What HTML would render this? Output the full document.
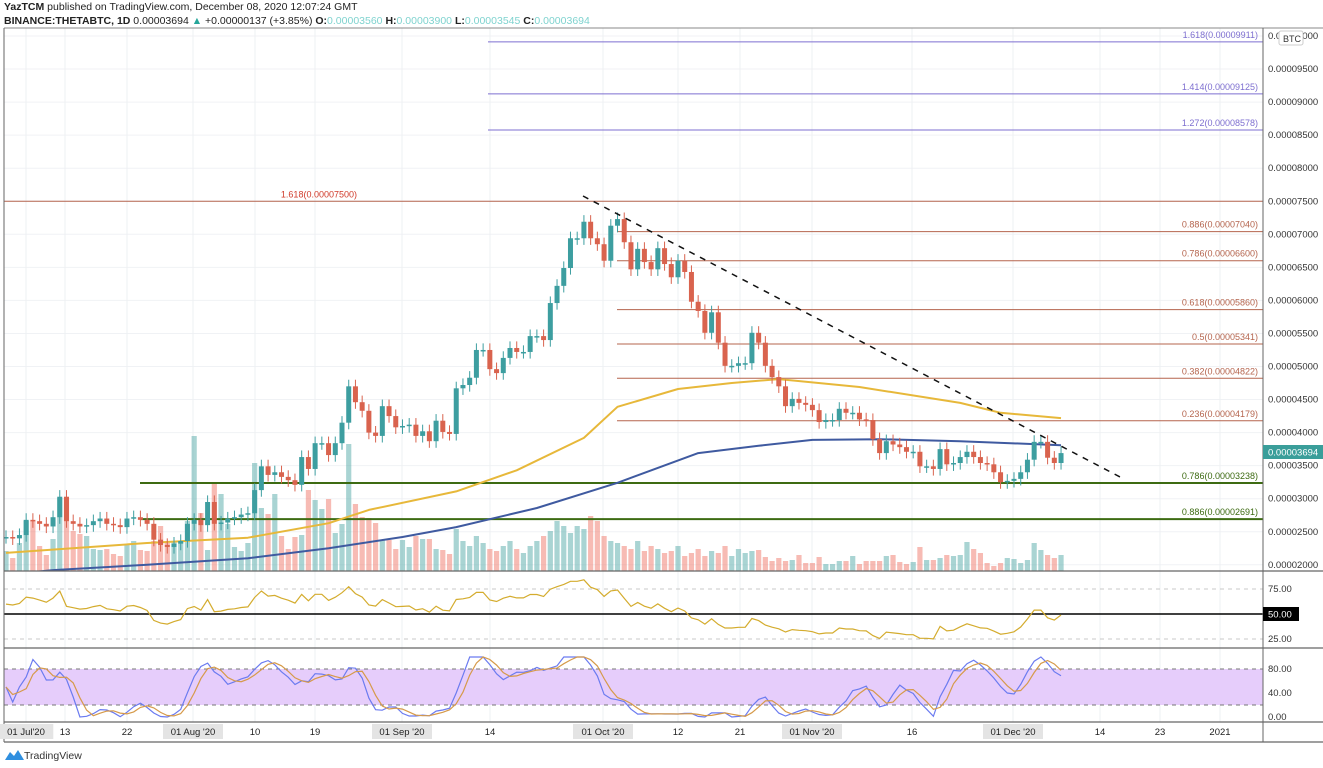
<!DOCTYPE html>
<html><head><meta charset="utf-8">
<style>
html,body{margin:0;padding:0;background:#fff;}
body{width:1323px;height:768px;overflow:hidden;position:relative;font-family:"Liberation Sans",sans-serif;}
.hdr{position:absolute;left:4px;font-size:10.5px;color:#222;white-space:nowrap;z-index:2;}
.hdr b{font-weight:bold;}
.cy{color:#7fd3cf;}
svg text{font-family:"Liberation Sans",sans-serif;}
</style></head>
<body>
<div class="hdr" style="top:1px"><b>YazTCM</b> published on TradingView.com, December 08, 2020 12:07:24 GMT</div>
<div class="hdr" style="top:15px"><b>BINANCE:THETABTC, 1D</b> 0.00003694 <span style="color:#26a69a">▲</span> +0.00000137 (+3.85%) <b>O:</b><span class="cy">0.00003560</span> <b>H:</b><span class="cy">0.00003900</span> <b>L:</b><span class="cy">0.00003545</span> <b>C:</b><span class="cy">0.00003694</span></div>
<svg id="chart" width="1323" height="768" style="position:absolute;left:0;top:0"></svg>
<script>
// ---- data (price in units of 1e-5 BTC) ----
const closes = [2.42,2.40,2.45,2.68,2.66,2.62,2.58,2.72,3.03,2.66,2.62,2.58,2.60,2.66,2.70,2.62,2.60,2.57,2.70,2.72,
2.68,2.62,2.38,2.30,2.27,2.32,2.36,2.62,2.68,2.60,2.95,2.62,2.64,2.70,2.72,2.76,2.78,3.13,3.49,3.36,
3.40,3.33,3.28,3.21,3.63,3.45,3.84,3.84,3.66,3.84,4.15,4.70,4.46,4.33,4.00,3.95,4.40,4.25,4.08,4.10,
4.12,3.95,4.02,3.87,4.18,4.01,3.98,4.67,4.72,4.83,5.25,5.25,4.96,4.90,5.13,5.28,5.22,5.22,5.46,5.46,
5.40,5.96,6.22,6.49,6.94,6.94,7.19,6.94,6.85,6.60,7.13,7.23,6.88,6.47,6.78,6.58,6.47,6.79,6.55,6.35,
6.60,6.43,5.98,5.84,5.51,5.82,5.36,5.01,5.01,5.05,5.05,5.51,5.36,5.01,4.84,4.70,4.40,4.51,4.45,4.42,
4.34,4.16,4.19,4.19,4.36,4.30,4.30,4.20,4.19,3.90,3.69,3.87,3.82,3.78,3.71,3.71,3.49,3.49,3.45,3.75,
3.52,3.54,3.63,3.71,3.63,3.54,3.52,3.40,3.25,3.27,3.30,3.40,3.59,3.86,3.86,3.62,3.54,3.69];
const volumes = [20,13,28,50,50,25,16,32,73,73,40,37,35,22,21,22,17,15,26,30,
21,20,30,45,28,30,30,50,135,58,21,87,77,47,24,20,28,108,63,57,
77,35,22,34,36,81,71,62,72,38,47,127,67,54,53,48,31,31,22,31,
24,35,32,32,22,21,17,42,
30,25,35,28,22,20,25,30,22,18,25,30,35,40,50,45,38,45,42,55,50,35,30,28,25,22,30,20,25,22,18,20,25,15,18,22,15,20,18,25,15,22,18,20,
21,14,10,13,10,11,16,8,8,14,7,7,10,10,15,7,10,10,10,15,16,9,7,9,24,11,11,13,16,15,16,29,22,18,8,5,8,13,12,8,11,28,21,16,13,16];
const ma50Idx = [0,21,36,48,54,67,76,86,91,100,108,115,127,142,148,157];
const ma50Val = [2.18,2.33,2.41,2.63,2.83,3.11,3.43,3.92,4.39,4.66,4.75,4.81,4.69,4.45,4.30,4.22];
const ma200Idx = [0,7,21,36,48,59,67,79,91,103,112,120,130,142,157];
const ma200Val = [1.85,1.92,2.00,2.10,2.25,2.42,2.57,2.86,3.24,3.69,3.80,3.89,3.90,3.87,3.81];
const priceTicks = [10,9.5,9,8.5,8,7.5,7,6.5,6,5.5,5,4.5,4,3.5,3,2.5,2];
const fibLevels = [
 {v:9.911,lab:"1.618(0.00009911)",c:"#7e6fd0",x0:488},
 {v:9.125,lab:"1.414(0.00009125)",c:"#7e6fd0",x0:488},
 {v:8.578,lab:"1.272(0.00008578)",c:"#7e6fd0",x0:488},
 {v:7.040,lab:"0.886(0.00007040)",c:"#b5654e",x0:617},
 {v:6.600,lab:"0.786(0.00006600)",c:"#b5654e",x0:617},
 {v:5.860,lab:"0.618(0.00005860)",c:"#b5654e",x0:617},
 {v:5.341,lab:"0.5(0.00005341)",c:"#b5654e",x0:617},
 {v:4.822,lab:"0.382(0.00004822)",c:"#b5654e",x0:617},
 {v:4.179,lab:"0.236(0.00004179)",c:"#b5654e",x0:617},
 {v:3.238,lab:"0.786(0.00003238)",c:"#3d6b12",x0:140,w:2},
 {v:2.691,lab:"0.886(0.00002691)",c:"#3d6b12",x0:140,w:2}];
const dateLabels = ["01 Jul'20","13","22","01 Aug '20","10","19","01 Sep '20","14","01 Oct '20","12","21","01 Nov '20","16","01 Dec '20","14","23","2021"];
const dateX = [26,65,127,193,255,315,402,490,603,678,740,812,912,1013,1100,1160,1220];

// ---- geometry ----
const NS="http://www.w3.org/2000/svg";
const svg=document.getElementById('chart');
const PL=4, PR=1263, PT=28, PB=571;
const x0=6, dx=6.72;
const xI=i=>x0+i*dx;
const yP=p=>36+(10-p)*66.1;
const yR=v=>614-(v-50)*1.0;
const yS=v=>717-v*0.6;
function mk(tag,attrs,parent){const e=document.createElementNS(NS,tag);for(const k in attrs)e.setAttribute(k,attrs[k]);(parent||svg).appendChild(e);return e;}
function txt(s,x,y,attrs,parent){const t=mk('text',Object.assign({x:x,y:y,'font-size':10,fill:'#333'},attrs),parent);t.textContent=s;return t;}

const defsEl=mk('defs',{});
const cpEl=mk('clipPath',{id:'pc'},defsEl);mk('rect',{x:PL,y:PT,width:PR-PL,height:PB-PT},cpEl);

const gridG=mk('g',{});


priceTicks.forEach(p=>mk('line',{x1:PL,x2:PR,y1:yP(p),y2:yP(p),stroke:'#f0f2f5'},gridG));
dateX.forEach(x=>mk('line',{x1:x,x2:x,y1:PT,y2:722,stroke:'#eef0f3'},gridG));

const bandEl=mk('rect',{x:PL,y:yS(80),width:PR-PL,height:yS(20)-yS(80),fill:'#e6cdfb'});



const pg=mk('g',{'clip-path':'url(#pc)'});
closes.forEach((c,i)=>{
  const o=i?closes[i-1]:c;const up=c>=o;
  const h=volumes[i];
  const r=mk('rect',{x:xI(i)-2.6,y:PB-h,width:5.2,height:h,fill:up?'rgba(83,170,168,0.5)':'rgba(239,120,105,0.5)'},pg);
  
  
});
fibLevels.forEach(f=>{
  const l=mk('line',{x1:f.x0,x2:PR,y1:yP(f.v),y2:yP(f.v),stroke:f.c,'stroke-width':f.w||1},pg);
  
  
  const t=txt(f.lab,1258,yP(f.v)-4,{'text-anchor':'end','font-size':9,fill:f.c},pg);
  
  
});
const fibTopLine=mk('line',{x1:PL,x2:PR,y1:yP(7.5),y2:yP(7.5),stroke:'#b5654e'},pg);


const fibTopLab=txt("1.618(0.00007500)",357,yP(7.5)-4,{'text-anchor':'end','font-size':9,fill:'#d03a2a'},pg);


function maPath(idx,val,color,name){
  const d=idx.map((k,j)=>(j?'L':'M')+xI(k).toFixed(1)+','+yP(val[j]).toFixed(1)).join('');
  const p=mk('path',{d:d,fill:'none',stroke:color,'stroke-width':2,'stroke-linejoin':'round'},pg);
  
  
}
maPath(ma50Idx,ma50Val,'#e7b83a','ma-50-line');
maPath(ma200Idx,ma200Val,'#3f5aa0','ma-200-line');
closes.forEach((c,i)=>{
  const o=i?closes[i-1]:c;const up=c>=o;
  const hi=Math.max(o,c)+0.1, lo=Math.min(o,c)-0.1;
  const col=up?'#3d9ea0':'#d9634e';
  const w=mk('line',{x1:xI(i),x2:xI(i),y1:yP(hi),y2:yP(lo),stroke:col},pg);
  
  
  const yt=yP(Math.max(o,c)), yb=yP(Math.min(o,c));
  const b=mk('rect',{x:xI(i)-2.5,y:yt,width:5,height:Math.max(1.5,yb-yt),fill:col},pg);
  
  
});
const trendEl=mk('line',{x1:583,y1:196,x2:1122,y2:478,stroke:'#111','stroke-width':1.5,'stroke-dasharray':'6,6'},pg);



// RSI / Stoch RSI computed from closes
const rsi=[];
let ag=0,al=0;
for(let i=1;i<=14;i++){const ch=closes[i]-closes[i-1];ag+=Math.max(ch,0)/14;al+=Math.max(-ch,0)/14;}
closes.forEach((c,i)=>{
  if(i>0){const ch=c-closes[i-1];ag=(ag*13+Math.max(ch,0))/14;al=(al*13+Math.max(-ch,0))/14;}
  rsi.push(al===0?100:100-100/(1+ag/al));
});
const stv=rsi.map((v,i)=>{const s=rsi.slice(Math.max(0,i-13),i+1);const mn=Math.min(...s),mx=Math.max(...s);return mx>mn?(v-mn)/(mx-mn)*100:50;});
const sma=(a,n)=>a.map((v,i)=>{const s=a.slice(Math.max(0,i-n+1),i+1);return s.reduce((x,y)=>x+y,0)/s.length;});
const kLine=sma(stv,3),dLine=sma(kLine,3);
[75,25].forEach(v=>mk('line',{x1:PL,x2:PR,y1:yR(v),y2:yR(v),stroke:'#c8c8c8','stroke-dasharray':'4,4'}));
const r50=mk('line',{x1:PL,x2:PR,y1:yR(50),y2:yR(50),stroke:'#000','stroke-width':1.5});


function seriesLine(arr,fy,color,name){
  const d=arr.map((v,i)=>(i?'L':'M')+xI(i).toFixed(1)+','+fy(v).toFixed(1)).join('');
  const p=mk('path',{d:d,fill:'none',stroke:color,'stroke-width':1.2});
  
  
}
seriesLine(rsi,yR,'#d4ac2e','rsi-line');
[80,20].forEach(v=>mk('line',{x1:PL,x2:PR,y1:yS(v),y2:yS(v),stroke:'#777','stroke-dasharray':'4,4'}));
seriesLine(kLine,yS,'#6b7bf0','stoch-k-line');
seriesLine(dLine,yS,'#d69a4a','stoch-d-line');

[PB,648,722,742].forEach(yv=>mk('line',{x1:PL,x2:1323,y1:yv,y2:yv,stroke:'#666','stroke-width':1.2}));
mk('line',{x1:PL,x2:1323,y1:PT,y2:PT,stroke:'#888'});
mk('line',{x1:PL,x2:PL,y1:PT,y2:742,stroke:'#666'});
mk('line',{x1:PR,x2:PR,y1:PT,y2:742,stroke:'#666'});

priceTicks.forEach(p=>{
  const t=txt((p*1e-5).toFixed(8),1268,yP(p)+3,{'font-size':9.5});
  
  
});
const priceBadge=mk('rect',{x:1263,y:445,width:60,height:14,fill:'#3a9e9a'});


const priceText=txt('0.00003694',1268,455.5,{'font-size':9.5,fill:'#fff'});


const btcBadge=mk('rect',{x:1279,y:31,width:24,height:14,rx:2,fill:'#fff',stroke:'#ccc'});


txt('BTC',1283,42,{'font-size':9});
[[75,'75.00'],[25,'25.00']].forEach(a=>txt(a[1],1268,yR(a[0])+3,{'font-size':9.5}));
mk('rect',{x:1263,y:yR(50)-7,width:36,height:14,fill:'#000'});
txt('50.00',1268,yR(50)+3.5,{'font-size':9.5,fill:'#fff'});
[[80,'80.00'],[40,'40.00'],[0,'0.00']].forEach(a=>txt(a[1],1268,yS(a[0])+3,{'font-size':9.5}));

dateLabels.forEach((s,i)=>{
  const month=/ /.test(s);
  if(month){const w=s.length*5.4+6;const r=mk('rect',{x:dateX[i]-w/2,y:724,width:w,height:15,fill:'#e4e4e4'});}
  const t=txt(s,dateX[i],735,{'text-anchor':'middle','font-size':9.5,fill:'#222'});
  
  
});
const logoEl=mk('path',{d:'M5 760 L10 752 L14 756 L18 750 L24 760 Z',fill:'#2f8fdf'});


const logoText=txt('TradingView',24,759,{'font-size':10.5,fill:'#333'});


</script>
</body></html>
